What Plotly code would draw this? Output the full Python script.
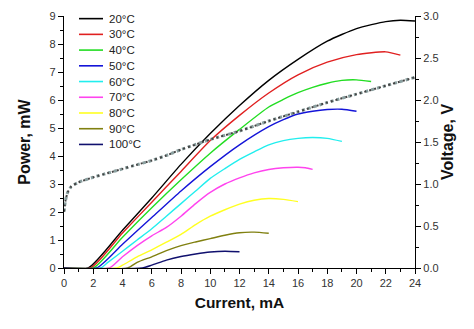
import plotly.graph_objects as go

# ---- data ----
temps = ["20°C", "30°C", "40°C", "50°C", "60°C", "70°C", "80°C", "90°C", "100°C"]
colors = ["#000000", "#e02020", "#22dd22", "#1414d8", "#22eeee",
          "#ff44ee", "#ffff22", "#808010", "#10106e"]

i_20 = [0, 1.66, 4, 6, 8, 10, 12, 14, 16, 18, 20, 22, 23, 24]
p_20 = [0, 0, 1.35, 2.5, 3.7, 4.8, 5.8, 6.7, 7.45, 8.1, 8.55, 8.8, 8.85, 8.82]

i_30 = [0, 1.82, 4, 6, 8, 10, 12, 14, 16, 18, 20, 22, 23]
p_30 = [0, 0, 1.25, 2.35, 3.45, 4.55, 5.45, 6.25, 6.9, 7.35, 7.62, 7.72, 7.6]

i_40 = [0, 2.0, 4, 6, 8, 10, 12, 14, 15, 16, 17, 18, 19, 20, 21]
p_40 = [0, 0, 1.1, 2.15, 3.15, 4.1, 4.95, 5.75, 6.02, 6.26, 6.45, 6.6, 6.7, 6.72, 6.66]

i_50 = [0, 2.23, 4, 6, 8, 10, 12, 14, 15, 16, 17, 18, 19, 20]
p_50 = [0, 0, 0.85, 1.8, 2.75, 3.62, 4.4, 5.05, 5.3, 5.5, 5.6, 5.66, 5.67, 5.6]

i_60 = [0, 2.5, 3, 4, 5, 6, 7, 8, 9, 10, 11, 12, 13, 14, 15, 16, 17, 18, 19]
p_60 = [0, 0, 0.2, 0.6, 1.0, 1.4, 1.85, 2.3, 2.75, 3.2, 3.55, 3.88, 4.15, 4.4, 4.55, 4.63, 4.66, 4.63, 4.52]

i_70 = [0, 3.1, 4, 5, 6, 7, 8, 9, 10, 11, 12, 13, 14, 15, 16, 16.5, 17]
p_70 = [0, 0, 0.4, 0.8, 1.15, 1.45, 1.85, 2.3, 2.7, 3.0, 3.22, 3.4, 3.52, 3.58, 3.6, 3.58, 3.52]

i_80 = [0, 3.6, 4, 5, 6, 7, 8, 9, 10, 11, 12, 13, 14, 15, 16]
p_80 = [0, 0, 0.1, 0.4, 0.65, 0.92, 1.2, 1.55, 1.85, 2.08, 2.28, 2.42, 2.48, 2.45, 2.37]

i_90 = [0, 4.35, 5, 6, 7, 8, 9, 10, 11, 12, 13, 14]
p_90 = [0, 0, 0.2, 0.4, 0.62, 0.8, 0.93, 1.05, 1.17, 1.26, 1.28, 1.24]

i_100 = [0, 5.35, 6, 7, 8, 9, 10, 11, 12]
p_100 = [0, 0, 0.1, 0.28, 0.41, 0.5, 0.57, 0.6, 0.58]

currents = [i_20, i_30, i_40, i_50, i_60, i_70, i_80, i_90, i_100]
powers = [p_20, p_30, p_40, p_50, p_60, p_70, p_80, p_90, p_100]

i_v = [0, 0.1, 0.25, 0.5, 1, 2, 3, 4, 5, 6, 7, 8, 9, 10, 12, 14, 16, 18, 20, 22, 24]
v_v = [0.67, 0.8, 0.9, 0.97, 1.02, 1.08, 1.13, 1.18, 1.23, 1.28, 1.34, 1.41, 1.47,
       1.53, 1.63, 1.75, 1.86, 1.97, 2.07, 2.17, 2.27]

x_ticks = list(range(0, 25, 2))
y_ticks = list(range(0, 10))
y2_ticks = [0.0, 0.5, 1.0, 1.5, 2.0, 2.5, 3.0]

FONT = "Liberation Sans, Arial, sans-serif"

fig = go.Figure()

for name, col, xs, ys in zip(temps, colors, currents, powers):
    fig.add_trace(go.Scatter(x=xs, y=ys, mode="lines", name=name,
                             line=dict(color=col, width=1.4, shape="spline", smoothing=0.6),
                             showlegend=False, yaxis="y"))

fig.add_trace(go.Scatter(x=i_v, y=v_v, mode="lines", yaxis="y2", showlegend=False,
                         line=dict(color="#8aa0a0", width=3, dash="dot", shape="spline", smoothing=0.6)))
fig.add_trace(go.Scatter(x=i_v, y=v_v, mode="lines", yaxis="y2", showlegend=False,
                         line=dict(color="#444444", width=2, dash="2px,3px", shape="spline", smoothing=0.6)))

# legend drawn as line samples + labels (compact spacing as in the reference)
shapes = []
annotations = []
for k, (name, col) in enumerate(zip(temps, colors)):
    yp = (268 - 12.7 - 16.1 * k) / 258.0
    shapes.append(dict(type="line", xref="paper", yref="paper",
                       x0=15 / 351, x1=39 / 351, y0=yp, y1=yp,
                       line=dict(color=col, width=1.6)))
    annotations.append(dict(xref="paper", yref="paper", x=43 / 351, y=yp,
                            xanchor="left", yanchor="middle", text=name, showarrow=False,
                            font=dict(family=FONT, size=11.5, color="#222")))

axis_common = dict(showline=True, linecolor="#000", linewidth=1.2, ticks="outside",
                   ticklen=5, tickwidth=1.2, tickcolor="#000", showgrid=False, zeroline=False,
                   tickfont=dict(family=FONT, size=11, color="#333"))

fig.update_layout(
    width=474, height=329,
    margin=dict(l=64, r=59, t=10, b=61),
    paper_bgcolor="white", plot_bgcolor="white",
    shapes=shapes, annotations=annotations,
    xaxis=dict(range=[0, 24], tickvals=x_ticks, ticktext=[str(v) for v in x_ticks],
               minor=dict(dtick=1, ticks="outside", ticklen=3, tickcolor="#000", tickwidth=1),
               title=dict(text="Current, mA", standoff=8,
                          font=dict(family=FONT, size=15.5, color="#111", weight="bold")),
               **axis_common),
    yaxis=dict(range=[0, 9], tickvals=y_ticks, ticktext=[str(v) for v in y_ticks],
               minor=dict(dtick=0.5, ticks="outside", ticklen=3, tickcolor="#000", tickwidth=1),
               title=dict(text="Power, mW", standoff=14,
                          font=dict(family=FONT, size=16, color="#111", weight="bold")),
               **axis_common),
    yaxis2=dict(range=[0, 3], overlaying="y", side="right", tickvals=y2_ticks,
                ticktext=[f"{v:.1f}" for v in y2_ticks],
                minor=dict(dtick=0.25, ticks="outside", ticklen=3, tickcolor="#000", tickwidth=1),
                title=dict(text="Voltage, V", standoff=4,
                           font=dict(family=FONT, size=16, color="#111", weight="bold")),
                **axis_common),
)

fig.write_html("out.html")
